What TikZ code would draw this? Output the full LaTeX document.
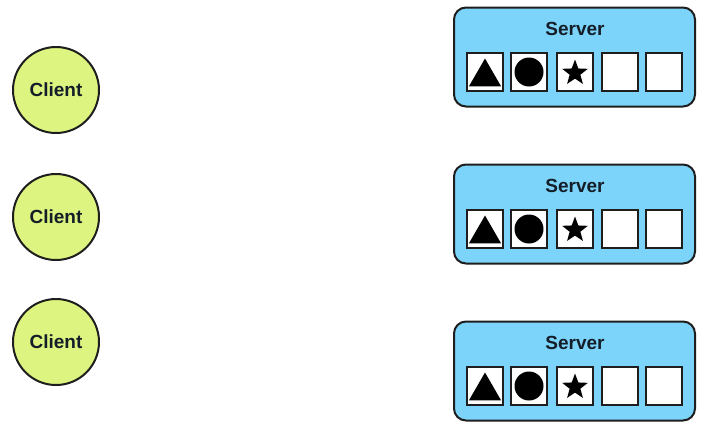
\documentclass[tikz,border=0pt]{standalone}
\usepackage{fontspec}
\setmainfont{Liberation Sans}
\usetikzlibrary{shapes.geometric}
\definecolor{clientgreen}{RGB}{221,244,128}
\definecolor{serverblue}{RGB}{125,212,250}
\definecolor{edge}{RGB}{30,30,30}
\definecolor{txt}{RGB}{20,30,40}
\tikzset{
  client/.style={circle, draw=edge, line width=2pt, fill=clientgreen, minimum size=86pt, inner sep=0pt,
    font=\bfseries\fontsize{19}{21}\selectfont, text=txt},
  server/.style={draw=edge, line width=2pt, fill=serverblue, rounded corners=12pt, minimum width=241pt,
    minimum height=99pt, inner sep=0pt},
  slabel/.style={font=\bfseries\fontsize{19}{21}\selectfont, text=txt},
  slot/.style={draw=edge, line width=2pt, fill=white, minimum width=36pt, minimum height=38pt, inner sep=0pt},
  tri/.style={regular polygon, regular polygon sides=3, fill=black, inner sep=0pt, minimum size=37pt},
  dot/.style={circle, fill=black, inner sep=0pt, minimum size=29pt},
  starshape/.style={star, star points=5, star point ratio=2.4, fill=black, inner sep=0pt, minimum size=27pt},
}
\begin{document}
\begin{tikzpicture}[x=1pt,y=-1pt]
\useasboundingbox (0,0) rectangle (708,424);
\foreach \i/\cy/\sy in {1/90/0,2/217/157,3/342/314}{
  \node[client] (c\i) at (56,\cy) {Client};
  \node[server] (s\i) at (574.5,57+\sy) {};
  \node[slabel] (l\i) at (575,29+\sy) {Server};
  \foreach \j/\x in {1/485,2/529,3/575,4/620,5/664}{
    \node[slot] (q\i\j) at (\x,72+\sy) {};
  }
  \node[tri] (t\i) at ([yshift=-5pt]q\i1.center) {};
  \node[dot] (d\i) at (q\i2.center) {};
  \node[starshape] (st\i) at ([yshift=-1pt]q\i3.center) {};
}
\end{tikzpicture}
\end{document}
